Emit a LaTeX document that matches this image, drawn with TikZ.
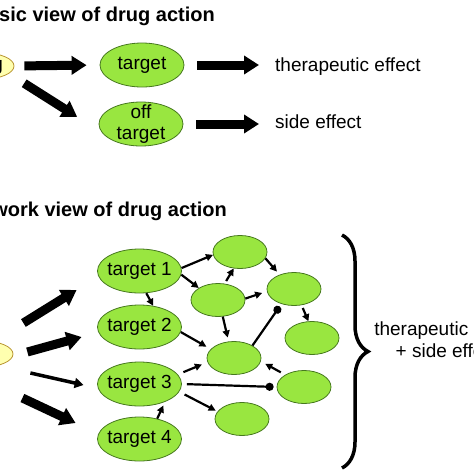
\documentclass[tikz,border=0pt]{standalone}
\usepackage{fontspec}
\setmainfont{Liberation Sans}
\usetikzlibrary{shapes.geometric}
\usetikzlibrary{arrows.meta}
\usetikzlibrary{decorations.pathreplacing}
\definecolor{leaf}{RGB}{153,230,64}
\definecolor{leafdark}{RGB}{70,120,30}
\definecolor{pill}{RGB}{255,255,175}
\definecolor{pilldark}{RGB}{185,150,50}

\begin{document}
\begin{tikzpicture}[x=1pt,y=-1pt,font=\fontsize{19}{21}\selectfont,
  targ/.style={ellipse,draw=leafdark,fill=leaf,line width=0.8pt,inner xsep=-3pt,inner ysep=0pt,minimum width=84pt,minimum height=44pt},
  small/.style={ellipse,draw=leafdark,fill=leaf,line width=0.8pt,minimum width=54pt,minimum height=33pt},
  drug/.style={ellipse,draw=pilldark,fill=pill,line width=0.8pt,inner sep=0pt,minimum width=60pt,minimum height=26pt},
  title/.style={font=\fontsize{20}{22}\selectfont\bfseries,anchor=base east,inner sep=0pt},
  effect/.style={anchor=base west,inner sep=0pt},
  bigarrow/.style={line width=9pt,-{Triangle[length=15pt,width=18pt]}},
  thinarrow/.style={line width=3.5pt,-{Triangle[length=9pt,width=10pt]}},
  link/.style={line width=2.2pt,-{Triangle[length=7pt,width=7pt]}},
  block/.style={line width=2.2pt,-{Circle[length=8pt]}}]
\useasboundingbox (0,0) rectangle (474,474);
\clip (0,0) rectangle (474,474);

% classic view
\node[title] (classic) at (215,21) {Classic view of drug action};
\node[drug] (drug1) at (-16,66) {drug};
\node[targ] (target) at (142,65) {target};
\node[targ] (off) at (141,124) {};
\node[align=center,inner sep=0pt] (offlabel) at (off) {off\\target};
\node[effect] (thera) at (275,71) {therapeutic effect};
\node[effect] (side) at (275,128) {side effect};
\draw[bigarrow,shorten <=10pt,shorten >=13pt] (drug1.east) -- (target.west);
\draw[bigarrow,shorten <=18pt,shorten >=29pt] (drug1.-17) -- (off.192);
\draw[bigarrow,shorten <=13pt,shorten >=16pt] (target.east) -- (thera.west |- target.east);
\draw[bigarrow,shorten <=13pt,shorten >=16pt] (off.east) -- (side.west |- off.east);

% network view
\node[title] (network) at (227,216) {Network view of drug action};
\node[drug] (drug2) at (-17,354) {};
\node[targ] (t1) at (139.5,271) {target 1};
\node[targ] (t2) at (139.5,327) {target 2};
\node[targ] (t3) at (139.5,384) {target 3};
\node[targ] (t4) at (139.5,439) {target 4};
\node[small] (up) at (240,252) {};
\node[small] (left) at (218,300) {};
\node[small] (right) at (294,289) {};
\node[small] (far) at (312,338) {};
\node[small] (hub) at (234,358) {};
\node[small] (low) at (304,387) {};
\node[small] (foot) at (242,419) {};

\draw[bigarrow] ([shift={(10,-31)}]drug2.east) -- ([shift={(-20.5,19)}]t1.west);
\draw[bigarrow] ([shift={(14,-2)}]drug2.east) -- ([shift={(-15.5,10)}]t2.west);
\draw[thinarrow] ([shift={(17,19)}]drug2.east) -- ([shift={(-13.5,1)}]t3.west);
\draw[bigarrow] ([shift={(9,44)}]drug2.east) -- ([shift={(-21.5,-16)}]t4.west);

\draw[link] (t1.4) -- (up.186);
\draw[link] (t1.-5) -- (left.148);
\draw[link] (t1.-73) -- (t2.57);
\draw[link,shorten <=3pt] (left.68) -- (up.-111);
\draw[link,shorten >=4pt] (up.-14) -- (right.135);
\draw[link,shorten >=5pt] (left.3) -- (right.185);
\draw[link,shorten >=4pt] (left.-74) -- (hub.108);
\draw[link,shorten <=3pt] (right.-65) -- (far.102);
\draw[block,shorten >=3pt] (hub.34) -- (right.230);
\draw[link,shorten >=5pt] (t2.-7) -- (hub.159);
\draw[link,shorten <=6pt,shorten >=6pt] (t3.14) -- (hub.189);
\draw[block,shorten <=5pt,shorten >=3pt] (t3.east) -- (low.west);
\draw[link,shorten <=5pt,shorten >=5pt] (low.147) -- (hub.-7);
\draw[link,shorten <=6pt,shorten >=2pt] (t3.-11) -- (foot.163);
\draw[link,shorten >=4pt] (t4.49) -- (t3.-35);

% brace and outcome
\coordinate (bracetop) at (342,235);
\coordinate (bracebot) at (342,468);
\draw[line width=3.5pt,decorate,decoration={brace,amplitude=26pt}] (bracetop) -- (bracebot);
\node[align=center,inner sep=0pt,font=\fontsize{19}{21.5}\selectfont] (result) at (447,339.5) {therapeutic effect\\+ side effect};
\end{tikzpicture}
\end{document}
